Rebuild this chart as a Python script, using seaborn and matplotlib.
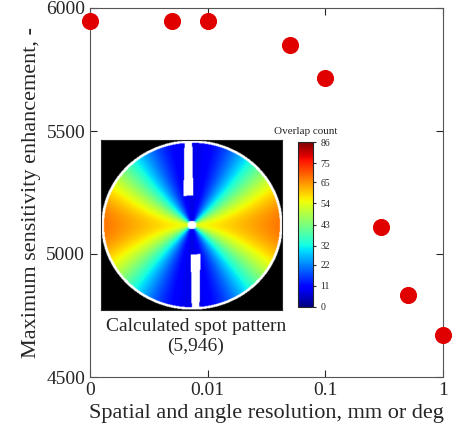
import numpy as np
import matplotlib
matplotlib.use("Agg")
import matplotlib.pyplot as plt
import seaborn as sns
from matplotlib.colors import ListedColormap

sns.set_style("ticks")
plt.rcParams['font.family'] = ['Liberation Serif', 'DejaVu Serif']

resolution = [0.001, 0.005, 0.01, 0.05, 0.1, 0.3, 0.5, 1.0]
enhancement = [5946, 5946, 5946, 5850, 5715, 5110, 4835, 4670]
xtick_vals = [0.001, 0.01, 0.1, 1]
xtick_labels = ["0", "0.01", "0.1", "1"]
ytick_vals = [4500, 5000, 5500, 6000]
cbar_ticks = [0, 11, 22, 32, 43, 54, 65, 75, 86]

fig = plt.figure(figsize=(4.74, 4.45), dpi=100)
ax = fig.add_axes([90/474, 1-377/445, 353/474, 369/445])
sns.scatterplot(x=resolution, y=enhancement, ax=ax, color="#e00000", s=130,
                edgecolor="#e00000", zorder=3, clip_on=False)
ax.set_xscale("log")
ax.set_xlim(0.001, 1)
ax.set_ylim(4500, 6000)
ax.set_xticks(xtick_vals)
ax.set_xticklabels(xtick_labels)
ax.minorticks_off()
ax.set_yticks(ytick_vals)
ax.tick_params(direction="in", labelsize=14, length=5, top=True, right=True)
for s in ax.spines.values():
    s.set_color("#555555")
ax.set_xlabel("Spatial and angle resolution, mm or deg", fontsize=16)
ax.set_ylabel("Maximum sensitivity enhancement, -", fontsize=16)
ax.text(0.3, 0.11, "Calculated spot pattern\n(5,946)", transform=ax.transAxes,
        ha="center", va="center", fontsize=14)

# inset spot pattern
n = 300
yy, xx = np.mgrid[-1:1:n*1j, -1:1:n*1j]
r = np.hypot(xx, yy)
th = np.arctan2(yy, xx)
img = 8 + 60 * np.cos(th) ** 2 * (0.75 + 0.25 * np.clip(r, 0, 1))
strip = (np.abs(xx - 0.04 * np.sign(yy)) < 0.06 * (1 - 0.3 * r)) & (r > 0.35) & (r < 0.97)
img[strip] = 200
img[(r < 0.05)] = 200
img[(r > 0.97) & (r < 1.0)] = 200
img[r >= 1.0] = -1
cmap = ListedColormap(plt.get_cmap("jet")(np.linspace(0, 1, 256)))
cmap.set_under("black")
cmap.set_over("white")
iax = fig.add_axes([101/474, 1-310/445, 181/474, 170/445])
im = iax.imshow(img, cmap=cmap, vmin=0, vmax=86, interpolation="bilinear", aspect="auto")
iax.set_xticks([]); iax.set_yticks([])
cax = fig.add_axes([298/474, 1-307/445, 15/474, 165/445])
cb = fig.colorbar(im, cax=cax, ticks=cbar_ticks)
cb.ax.tick_params(labelsize=7, length=2)
cax.set_title("Overlap count", fontsize=8)
fig.savefig("out.png", dpi=100)
